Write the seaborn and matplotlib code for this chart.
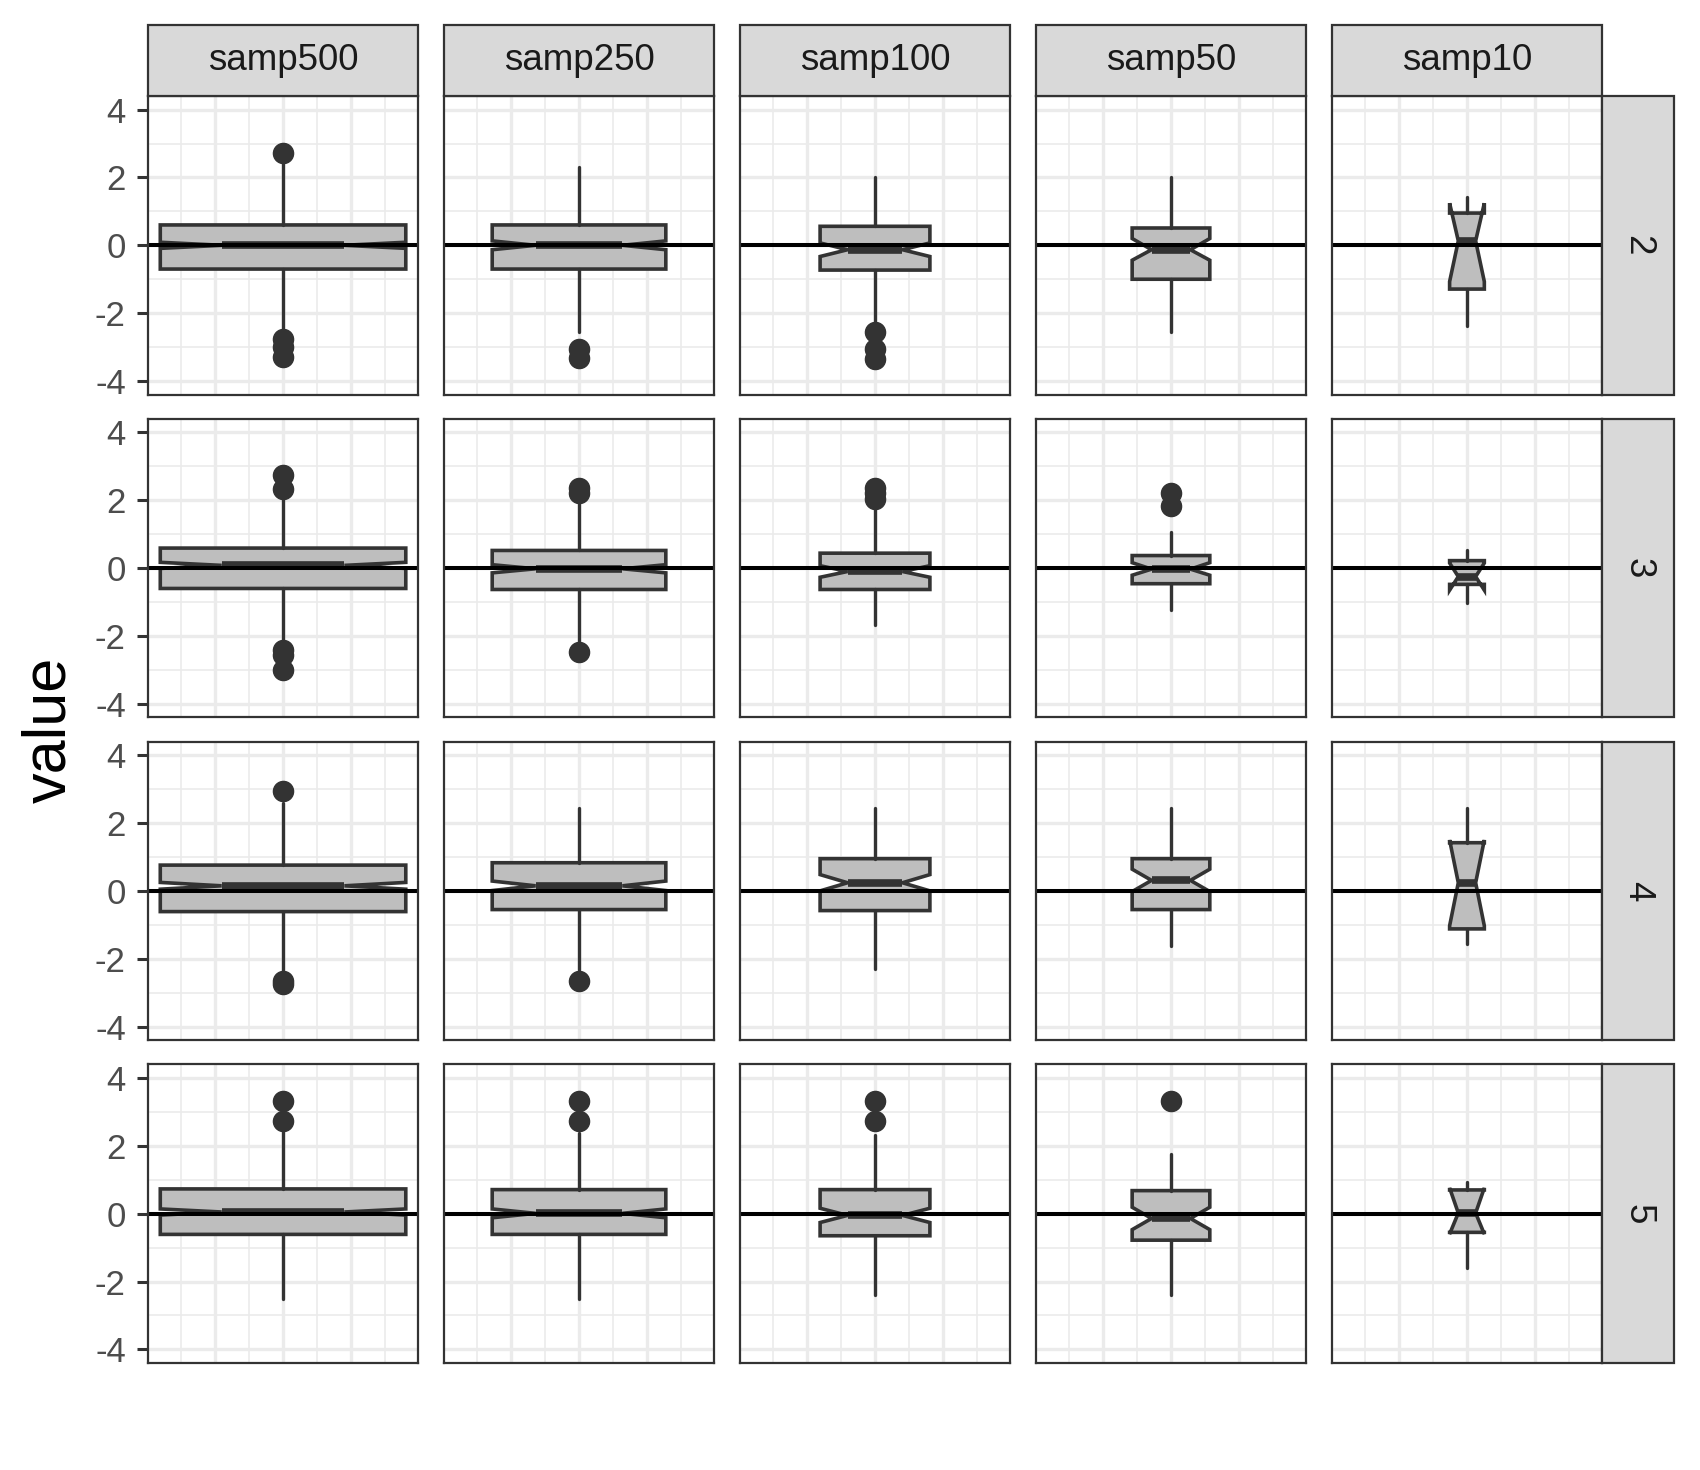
import numpy as np
import pandas as pd
import seaborn as sns
import matplotlib
matplotlib.use("Agg")
import matplotlib.pyplot as plt
from matplotlib.patches import Rectangle

# ---------------- data ----------------
samples = ["samp500", "samp250", "samp100", "samp50", "samp10"]
sample_n = [500, 250, 100, 50, 10]
groups = ["2", "3", "4", "5"]

medians = [
    [0.00, 0.00, -0.13, -0.13, 0.13],
    [0.08, -0.02, -0.10, -0.03, -0.25],
    [0.15, 0.15, 0.24, 0.31, 0.24],
    [0.05, 0.01, -0.05, -0.14, 0.02],
]
q1s = [
    [-0.70, -0.70, -0.73, -1.00, -1.29],
    [-0.60, -0.63, -0.63, -0.46, -0.48],
    [-0.61, -0.55, -0.58, -0.55, -1.12],
    [-0.61, -0.61, -0.65, -0.78, -0.55],
]
q3s = [
    [0.60, 0.60, 0.56, 0.51, 0.95],
    [0.59, 0.52, 0.44, 0.37, 0.22],
    [0.76, 0.83, 0.95, 0.95, 1.42],
    [0.73, 0.71, 0.71, 0.68, 0.70],
]
whisk_lo = [
    [-2.55, -2.55, -2.42, -2.56, -2.37],
    [-2.25, -2.17, -1.68, -1.24, -1.04],
    [-2.43, -2.34, -2.31, -1.63, -1.56],
    [-2.51, -2.51, -2.41, -2.41, -1.60],
]
whisk_hi = [
    [2.50, 2.31, 2.00, 2.00, 1.41],
    [2.10, 2.00, 1.80, 1.07, 0.53],
    [2.60, 2.45, 2.45, 2.45, 2.45],
    [2.47, 2.39, 2.32, 1.77, 0.94],
]
notch_lo = [
    [-0.09, -0.13, -0.33, -0.44, -1.07],
    [-0.01, -0.14, -0.27, -0.21, -0.65],
    [0.05, 0.01, 0.00, -0.02, -1.03],
    [-0.04, -0.12, -0.26, -0.47, -0.60],
]
notch_hi = [
    [0.09, 0.13, 0.07, 0.20, 1.24],
    [0.17, 0.10, 0.07, 0.16, 0.15],
    [0.25, 0.29, 0.48, 0.64, 1.50],
    [0.14, 0.14, 0.16, 0.19, 0.76],
]
outliers = [
    [[2.71, -2.75, -3.00, -3.30], [-3.05, -3.32], [-2.56, -3.07, -3.35], [], []],
    [[2.74, 2.34, -2.40, -2.56, -3.00], [2.37, 2.20, -2.46], [2.37, 2.22, 2.05], [2.22, 1.83], []],
    [[2.95, -2.65, -2.75], [-2.65], [], [], []],
    [[3.32, 2.74], [3.32, 2.74], [3.32, 2.74], [3.32], []],
]

records = []
for i, g in enumerate(groups):
    for j, s in enumerate(samples):
        records.append(dict(group=g, sample=s, n=sample_n[j],
                            med=medians[i][j], q1=q1s[i][j], q3=q3s[i][j],
                            lo=whisk_lo[i][j], hi=whisk_hi[i][j],
                            cilo=notch_lo[i][j], cihi=notch_hi[i][j],
                            fliers=outliers[i][j]))
df = pd.DataFrame(records)

# ---------------- style ----------------
sns.set_theme(style="whitegrid")
plt.rcParams["font.family"] = ["Liberation Sans", "DejaVu Sans"]
plt.rcParams["axes.unicode_minus"] = False

W, H = 1700, 1470
EDGE = "#333333"
FILL = "#BEBEBE"
max_n = max(sample_n)


def draw_box(data, **kws):
    ax = plt.gca()
    r = data.iloc[0]
    width = 0.9 * np.sqrt(r["n"] / max_n)   # varwidth boxes
    stats = dict(med=r["med"], q1=r["q1"], q3=r["q3"], whislo=r["lo"],
                 whishi=r["hi"], cilo=r["cilo"], cihi=r["cihi"],
                 fliers=np.array(r["fliers"], dtype=float), label="")
    ax.bxp([stats], positions=[1.0], widths=[width], patch_artist=True,
           shownotches=True, showcaps=False, manage_ticks=False,
           boxprops=dict(facecolor=FILL, edgecolor=EDGE, linewidth=2.6,
                         joinstyle="miter"),
           whiskerprops=dict(color=EDGE, linewidth=2.4),
           medianprops=dict(color=EDGE, linewidth=5.5, solid_capstyle="butt"),
           flierprops=dict(marker="o", markerfacecolor=EDGE,
                           markeredgecolor=EDGE, markersize=14.5, linestyle="none"))
    ax.axhline(0, color="black", linewidth=2.9, zorder=6)


g = sns.FacetGrid(df, row="group", col="sample", row_order=groups,
                  col_order=samples, sharex=True, sharey=True,
                  despine=False, height=3, aspect=1)
g.map_dataframe(draw_box)

fig = g.figure
fig.set_layout_engine("none")
fig.set_size_inches(W / 100, H / 100)

left, right = 148 / W, 1602 / W
top, bottom = 1 - 96 / H, 1 - 1363 / H
fig.subplots_adjust(left=left, right=right, top=top, bottom=bottom,
                    wspace=0.096, hspace=0.081)

for i in range(len(groups)):
    for j in range(len(samples)):
        ax = g.axes[i, j]
        ax.set_title("")
        ax.set_xlabel("")
        ax.set_ylabel("")
        ax.set_xlim(0.505, 1.495)
        ax.set_ylim(-4.4, 4.4)
        ax.set_yticks([-4, -2, 0, 2, 4])
        ax.set_yticks([-3, -1, 1, 3], minor=True)
        ax.set_xticks([0.75, 1.0, 1.25])
        ax.set_xticks([0.625, 0.875, 1.125, 1.375], minor=True)
        ax.set_facecolor("white")
        ax.grid(True, which="major", color="#EBEBEB", linewidth=2.4)
        ax.grid(True, which="minor", color="#EBEBEB", linewidth=1.2)
        ax.set_axisbelow(True)
        ax.tick_params(axis="x", which="both", length=0, labelbottom=False)
        ax.tick_params(axis="y", which="minor", length=0)
        if j == 0:
            ax.set_yticklabels(["-4", "-2", "0", "2", "4"])
            ax.tick_params(axis="y", which="major", length=8, width=2.2,
                           color=EDGE, labelsize=25, labelcolor="#4D4D4D",
                           pad=8, left=True, labelleft=True)
        else:
            ax.tick_params(axis="y", which="major", length=0, labelleft=False)
        for sp in ax.spines.values():
            sp.set_visible(True)
            sp.set_color(EDGE)
            sp.set_linewidth(1.6)
            sp.set_zorder(10)

# column strips (top)
strip_h = 71 / H
for j, s in enumerate(samples):
    pos = g.axes[0, j].get_position()
    fig.add_artist(Rectangle((pos.x0, pos.y1), pos.width, strip_h,
                             transform=fig.transFigure, facecolor="#D9D9D9",
                             edgecolor=EDGE, linewidth=1.6))
    fig.text(pos.x0 + pos.width / 2, pos.y1 + strip_h / 2, s,
             ha="center", va="center", fontsize=26.5, color="#1A1A1A")

# row strips (right)
strip_w = 72 / W
for i, gr in enumerate(groups):
    pos = g.axes[i, -1].get_position()
    fig.add_artist(Rectangle((pos.x1, pos.y0), strip_w, pos.height,
                             transform=fig.transFigure, facecolor="#D9D9D9",
                             edgecolor=EDGE, linewidth=1.6))
    fig.text(pos.x1 + strip_w / 2, pos.y0 + pos.height / 2, gr,
             ha="center", va="center", rotation=-90, fontsize=26.5,
             color="#1A1A1A")

# y-axis title
fig.text(50 / W, (top + bottom) / 2, "value", rotation=90, ha="center",
         va="center", fontsize=44, color="black")

fig.savefig("out.png", dpi=100, facecolor="white")
